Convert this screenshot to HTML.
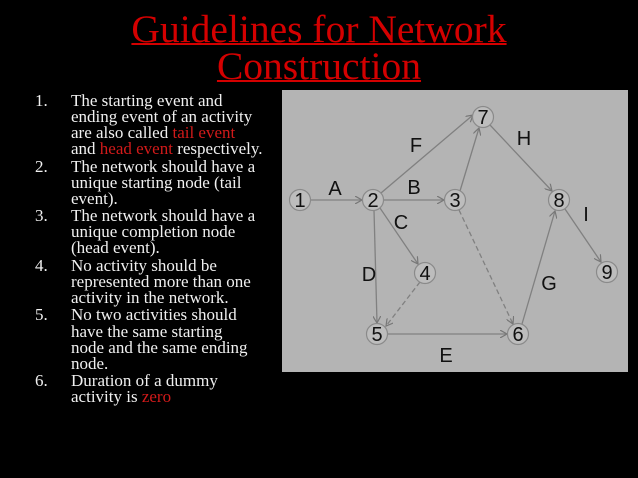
<!DOCTYPE html>
<html><head><style>
body{margin:0;width:638px;height:478px;background:#000;overflow:hidden;position:relative;font-family:"Liberation Serif",serif;}
.t{position:absolute;left:0;width:638px;text-align:center;color:#d40000;font-size:39.5px;text-decoration:underline;text-decoration-thickness:2px;line-height:37px;top:11px;}
.l{position:absolute;left:35px;top:93px;color:#f0f0f0;font-size:17px;line-height:16.1px;}
.it{position:relative;padding-left:36px;margin-bottom:1.3px;white-space:nowrap;}
.it b{position:absolute;left:0;font-weight:normal;}
.r{color:#d21a1a;}
</style></head><body>
<div class="t">Guidelines for Network<br>Construction</div>
<div class="l">
<div class="it"><b>1.</b>The starting event and<br>ending event of an activity<br>are also called <span class="r">tail event</span><br>and <span class="r">head event</span> respectively.</div>
<div class="it"><b>2.</b>The network should have a<br>unique starting node (tail<br>event).</div>
<div class="it"><b>3.</b>The network should have a<br>unique completion node<br>(head event).</div>
<div class="it"><b>4.</b>No activity should be<br>represented more than one<br>activity in the network.</div>
<div class="it"><b>5.</b>No two activities should<br>have the same starting<br>node and the same ending<br>node.</div>
<div class="it"><b>6.</b>Duration of a dummy<br>activity is <span class="r">zero</span></div>
</div>
<svg width="638" height="478" style="position:absolute;left:0;top:0">
<defs><marker id="a" markerWidth="8" markerHeight="8" refX="7" refY="4" orient="auto" markerUnits="userSpaceOnUse"><path d="M0,0 L7,4 L0,8" fill="none" stroke="#777" stroke-width="1.2"/></marker></defs>
<rect x="282" y="90" width="346" height="282" fill="#b4b4b4"/>
<g stroke="#808080" stroke-width="1.3" fill="none" marker-end="url(#a)">
<line x1="310" y1="200" x2="362" y2="200"/>
<line x1="383" y1="200" x2="444" y2="200"/>
<line x1="381" y1="193" x2="473" y2="115"/>
<line x1="460" y1="191" x2="479" y2="128"/>
<line x1="490" y1="125" x2="552" y2="191"/>
<line x1="380" y1="208" x2="418" y2="264"/>
<line x1="374" y1="210" x2="377" y2="323"/>
<line x1="420" y1="282" x2="386" y2="326" stroke-dasharray="5,3"/>
<line x1="459" y1="210" x2="513" y2="324" stroke-dasharray="5,3"/>
<line x1="388" y1="334" x2="507" y2="334"/>
<line x1="522" y1="324" x2="555" y2="211"/>
<line x1="565" y1="209" x2="601" y2="262"/>
</g>
<g stroke="#8a8a8a" stroke-width="1.2" fill="#bdbdbd">
<circle cx="300" cy="200" r="10.5"/><circle cx="373" cy="200" r="10.5"/><circle cx="455" cy="200" r="10.5"/>
<circle cx="483" cy="117" r="10.5"/><circle cx="559" cy="200" r="10.5"/><circle cx="607" cy="272" r="10.5"/>
<circle cx="425" cy="273" r="10.5"/><circle cx="377" cy="334" r="10.5"/><circle cx="518" cy="334" r="10.5"/>
</g>
<g font-family="Liberation Sans,sans-serif" font-size="20" fill="#111" text-anchor="middle">
<text x="300" y="207">1</text><text x="373" y="207">2</text><text x="455" y="207">3</text>
<text x="483" y="124">7</text><text x="559" y="207">8</text><text x="607" y="279">9</text>
<text x="425" y="280">4</text><text x="377" y="341">5</text><text x="518" y="341">6</text>
<text x="335" y="195">A</text><text x="416" y="152">F</text><text x="524" y="145">H</text>
<text x="414" y="194">B</text><text x="401" y="229">C</text><text x="369" y="281">D</text>
<text x="446" y="362">E</text><text x="549" y="290">G</text><text x="586" y="221">I</text>
</g>
</svg>
</body></html>
